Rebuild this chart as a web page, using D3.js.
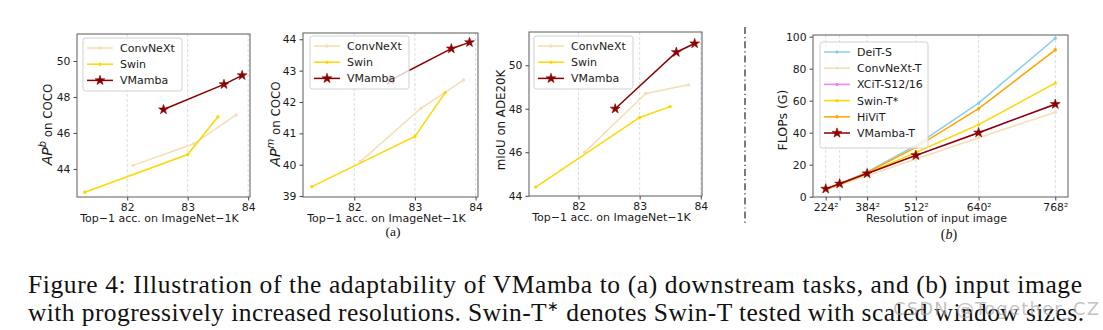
<!DOCTYPE html>
<html>
<head>
<meta charset="utf-8">
<script src="https://cdn.jsdelivr.net/npm/d3@7"></script>
<style>
  body { margin: 0; background: #fff; }
  svg text { font-family: "DejaVu Sans", sans-serif; fill: #1a1a1a; }
  .tick line { stroke: #444; }
  .grid line { stroke: #dcdcdc; stroke-dasharray: 3,2; }
  .caption { font-family: "Liberation Serif", serif !important; font-size: 25.5px; fill: #111; }
</style>
</head>
<body>
<div id="chart"></div>
<script>
// ImageNet top-1 accuracy for each backbone size (T / S / B)
const convnextAcc = [82.1, 83.1, 83.8];
const swinAcc = [81.3, 83.0, 83.5];
const vmambaAcc = [82.6, 83.6, 83.9];

// box AP on COCO
const convnextBox = [44.2, 45.4, 47.0];
const swinBox = [42.7, 44.8, 46.9];
const vmambaBox = [47.3, 48.7, 49.2];

// mask AP on COCO
const convnextMask = [40.1, 41.8, 42.7];
const swinMask = [39.3, 40.9, 42.3];
const vmambaMask = [42.7, 43.7, 43.9];

// mIoU on ADE20K
const convnextSeg = [46.0, 48.7, 49.1];
const swinSeg = [44.4, 47.6, 48.1];
const vmambaSeg = [48.0, 50.6, 51.0];

// FLOPs (G) vs input resolution
const resolutions = [224, 288, 384, 512, 640, 768];
const resTickLabels = ["224²", "", "384²", "512²", "640²", "768²"];
const deitFlops = [4.6, 7.8, 15.5, 32.0, 58.5, 99.0];
const convnextFlops = [4.5, 7.4, 13.1, 23.6, 36.8, 52.8];
const xcitFlops = [4.9, 8.1, 14.5, 25.8, 40.0, 57.8];
const swinFlops = [4.5, 7.6, 14.6, 27.6, 45.0, 71.0];
const hivitFlops = [4.6, 7.8, 15.0, 30.8, 55.0, 91.8];
const vmambaFlops = [4.9, 8.1, 14.5, 25.8, 40.0, 57.8];

const C = {
  wheat: "#f5deb3", gold: "#ffd700", darkred: "#8b0000",
  sky: "#87ceeb", violet: "#ee82ee", orange: "#ffa500"
};

const svg = d3.select("#chart").append("svg")
  .attr("width", 1103).attr("height", 330);

const star = d3.symbol().type(d3.symbolStar).size(30);

// draws one framed axes box, returns the scales
function panel(opt) {
  const x = d3.scaleLinear().domain(opt.xDomain).range([opt.left, opt.right]);
  const y = d3.scaleLinear().domain(opt.yDomain).range([opt.bottom, opt.top]);
  const g = svg.append("g");

  // dashed vertical grid at the x ticks
  g.append("g").attr("class", "grid")
    .selectAll("line").data(opt.xTicks).join("line")
    .attr("x1", d => x(d)).attr("x2", d => x(d))
    .attr("y1", opt.top).attr("y2", opt.bottom);

  g.append("g")
    .attr("transform", `translate(0,${opt.bottom})`)
    .call(d3.axisBottom(x).tickValues(opt.xTicks).tickSize(3.5).tickPadding(3)
      .tickFormat(opt.xFormat || d3.format("d")))
    .call(a => a.select(".domain").remove())
    .call(a => a.selectAll(".tick text").attr("font-size", 10.8));

  g.append("g")
    .attr("transform", `translate(${opt.left},0)`)
    .call(d3.axisLeft(y).tickValues(opt.yTicks).tickSize(3.5).tickPadding(3)
      .tickFormat(d3.format("d")))
    .call(a => a.select(".domain").remove())
    .call(a => a.selectAll(".tick text").attr("font-size", 10.8));

  opt.series.forEach(s => {
    const pts = s.x.map((v, i) => [x(v), y(s.y[i])]);
    g.append("path")
      .attr("d", d3.line()(pts))
      .attr("fill", "none").attr("stroke", s.color).attr("stroke-width", 1.5);
    if (s.star) {
      g.selectAll(null).data(pts).join("path")
        .attr("d", star).attr("transform", d => `translate(${d[0]},${d[1]})`)
        .attr("fill", s.color).attr("stroke", s.color).attr("stroke-width", 0.6);
    } else {
      g.selectAll(null).data(pts).join("circle")
        .attr("cx", d => d[0]).attr("cy", d => d[1]).attr("r", 1.7)
        .attr("fill", s.color);
    }
  });

  g.append("rect")
    .attr("x", opt.left).attr("y", opt.top)
    .attr("width", opt.right - opt.left).attr("height", opt.bottom - opt.top)
    .attr("fill", "none").attr("stroke", "#5a5a5a").attr("stroke-width", 1);

  // legend
  const lg = g.append("g");
  lg.append("rect")
    .attr("x", opt.legend.x).attr("y", opt.legend.y)
    .attr("width", opt.legend.w).attr("height", opt.legend.h)
    .attr("rx", 2.5).attr("fill", "#fff").attr("fill-opacity", 0.8)
    .attr("stroke", "#d0d0d0").attr("stroke-width", 1);
  opt.series.forEach((s, i) => {
    const cy = opt.legend.y + 10 + i * 16.2;
    const lx = opt.legend.x + 4;
    lg.append("line")
      .attr("x1", lx).attr("x2", lx + 26).attr("y1", cy).attr("y2", cy)
      .attr("stroke", s.color).attr("stroke-width", 1.5);
    if (s.star) {
      lg.append("path").attr("d", star).attr("transform", `translate(${lx + 13},${cy})`)
        .attr("fill", s.color).attr("stroke", s.color).attr("stroke-width", 0.6);
    } else {
      lg.append("circle").attr("cx", lx + 13).attr("cy", cy).attr("r", 1.7).attr("fill", s.color);
    }
    lg.append("text")
      .attr("x", lx + 33).attr("y", cy + 4)
      .attr("font-size", 11).text(s.name);
  });

  // axis labels
  g.append("text")
    .attr("x", (opt.left + opt.right) / 2 + (opt.xLabelShift || 0)).attr("y", opt.bottom + 25)
    .attr("text-anchor", "middle").attr("font-size", 11)
    .text(opt.xLabel);

  const yl = g.append("text")
    .attr("transform", `translate(${opt.yLabelX},${(opt.top + opt.bottom) / 2 + (opt.yLabelShift || 0)}) rotate(-90)`)
    .attr("text-anchor", "middle").attr("font-size", 11.8);
  opt.yLabel(yl);
  return { x, y };
}

const accLabel = "Top\u22121 acc. on ImageNet\u22121K";
const apLabel = sup => t => {
  t.append("tspan").attr("font-style", "italic").attr("font-size", 14).text("AP");
  t.append("tspan").attr("font-style", "italic").attr("font-size", 10).attr("dy", -6).text(sup);
  t.append("tspan").attr("dy", 6).text(" on COCO");
};

function detSeries(cn, sw, vm) {
  return [
    { name: "ConvNeXt", x: convnextAcc, y: cn, color: C.wheat },
    { name: "Swin", x: swinAcc, y: sw, color: C.gold },
    { name: "VMamba", x: vmambaAcc, y: vm, color: C.darkred, star: true }
  ];
}

panel({
  left: 77, right: 250, top: 34, bottom: 197,
  xDomain: [81.17, 84.03], yDomain: [42.44, 51.5],
  xTicks: [82, 83, 84], yTicks: [44, 46, 48, 50],
  series: detSeries(convnextBox, swinBox, vmambaBox),
  legend: { x: 83, y: 38, w: 99, h: 53 },
  xLabel: accLabel, xLabelShift: -4, yLabelX: 52, yLabelShift: 9, yLabel: apLabel("b")
});

panel({
  left: 303, right: 478, top: 33, bottom: 197,
  xDomain: [81.155, 84.04], yDomain: [38.97, 44.2],
  xTicks: [82, 83, 84], yTicks: [39, 40, 41, 42, 43, 44],
  series: detSeries(convnextMask, swinMask, vmambaMask),
  legend: { x: 310, y: 36, w: 99, h: 53 },
  xLabel: accLabel, xLabelShift: -4, yLabelX: 280, yLabelShift: 9, yLabel: apLabel("m")
});

panel({
  left: 529, right: 702, top: 32, bottom: 196,
  xDomain: [81.19, 84.02], yDomain: [43.99, 51.53],
  xTicks: [82, 83, 84], yTicks: [44, 46, 48, 50],
  series: detSeries(convnextSeg, swinSeg, vmambaSeg),
  legend: { x: 534, y: 36, w: 99, h: 53 },
  xLabel: accLabel, xLabelShift: -4, yLabelX: 505, yLabelShift: 6,
  yLabel: t => t.text("mIoU on ADE20K")
});

// x runs linearly in pixel count (res²)
const sq = resolutions.map(r => r * r);
const flopSeries = [
  { name: "DeiT-S", y: deitFlops, color: C.sky },
  { name: "ConvNeXt-T", y: convnextFlops, color: C.wheat },
  { name: "XCiT-S12/16", y: xcitFlops, color: C.violet },
  { name: "Swin-T*", y: swinFlops, color: C.gold },
  { name: "HiViT", y: hivitFlops, color: C.orange },
  { name: "VMamba-T", y: vmambaFlops, color: C.darkred, star: true }
].map(s => Object.assign(s, { x: sq }));

panel({
  left: 813, right: 1068, top: 35, bottom: 197,
  xDomain: [20300, 619700], yDomain: [-0.2, 101.05],
  xTicks: sq, yTicks: [0, 20, 40, 60, 80, 100],
  xFormat: (d, i) => resTickLabels[i],
  series: flopSeries,
  legend: { x: 820, y: 42, w: 108, h: 106 },
  xLabel: "Resolution of input image", xLabelShift: -4, yLabelX: 787, yLabelShift: 4,
  yLabel: t => t.attr("font-size", 12.5).text("FLOPs (G)")
});

// dash-dot divider between (a) and (b)
svg.append("line")
  .attr("x1", 745).attr("x2", 745).attr("y1", 27).attr("y2", 223)
  .attr("stroke", "#444").attr("stroke-width", 1.4)
  .attr("stroke-dasharray", "7,3,1.2,3");

// sub-figure tags
svg.append("text").attr("class", "caption").attr("x", 393).attr("y", 236)
  .attr("text-anchor", "middle").style("font-size", "13.5px").text("(a)");
const tagB = svg.append("text").attr("class", "caption").attr("x", 949).attr("y", 239)
  .attr("text-anchor", "middle").style("font-size", "14px");
tagB.append("tspan").text("(");
tagB.append("tspan").attr("font-style", "italic").text("b");
tagB.append("tspan").text(")");

// caption, justified to the column width
svg.append("text").attr("class", "caption")
  .attr("x", 28).attr("y", 293)
  .attr("textLength", 1054).attr("lengthAdjust", "spacing")
  .text("Figure 4: Illustration of the adaptability of VMamba to (a) downstream tasks, and (b) input image");
const line2 = svg.append("text").attr("class", "caption")
  .attr("x", 28).attr("y", 321)
  .attr("textLength", 1056).attr("lengthAdjust", "spacing");
line2.append("tspan").text("with progressively increased resolutions. Swin-T");
line2.append("tspan").attr("dy", -10).style("font-size", "14px").text("∗");
line2.append("tspan").attr("dy", 10).text(" denotes Swin-T tested with scaled window sizes.");

// blog watermark
svg.append("text")
  .attr("x", 893).attr("y", 315)
  .attr("font-size", 18).attr("textLength", 206)
  .style("fill", "#a8a8a8").style("fill-opacity", 0.7)
  .text("CSDN @Together_CZ");
</script>
</body>
</html>
